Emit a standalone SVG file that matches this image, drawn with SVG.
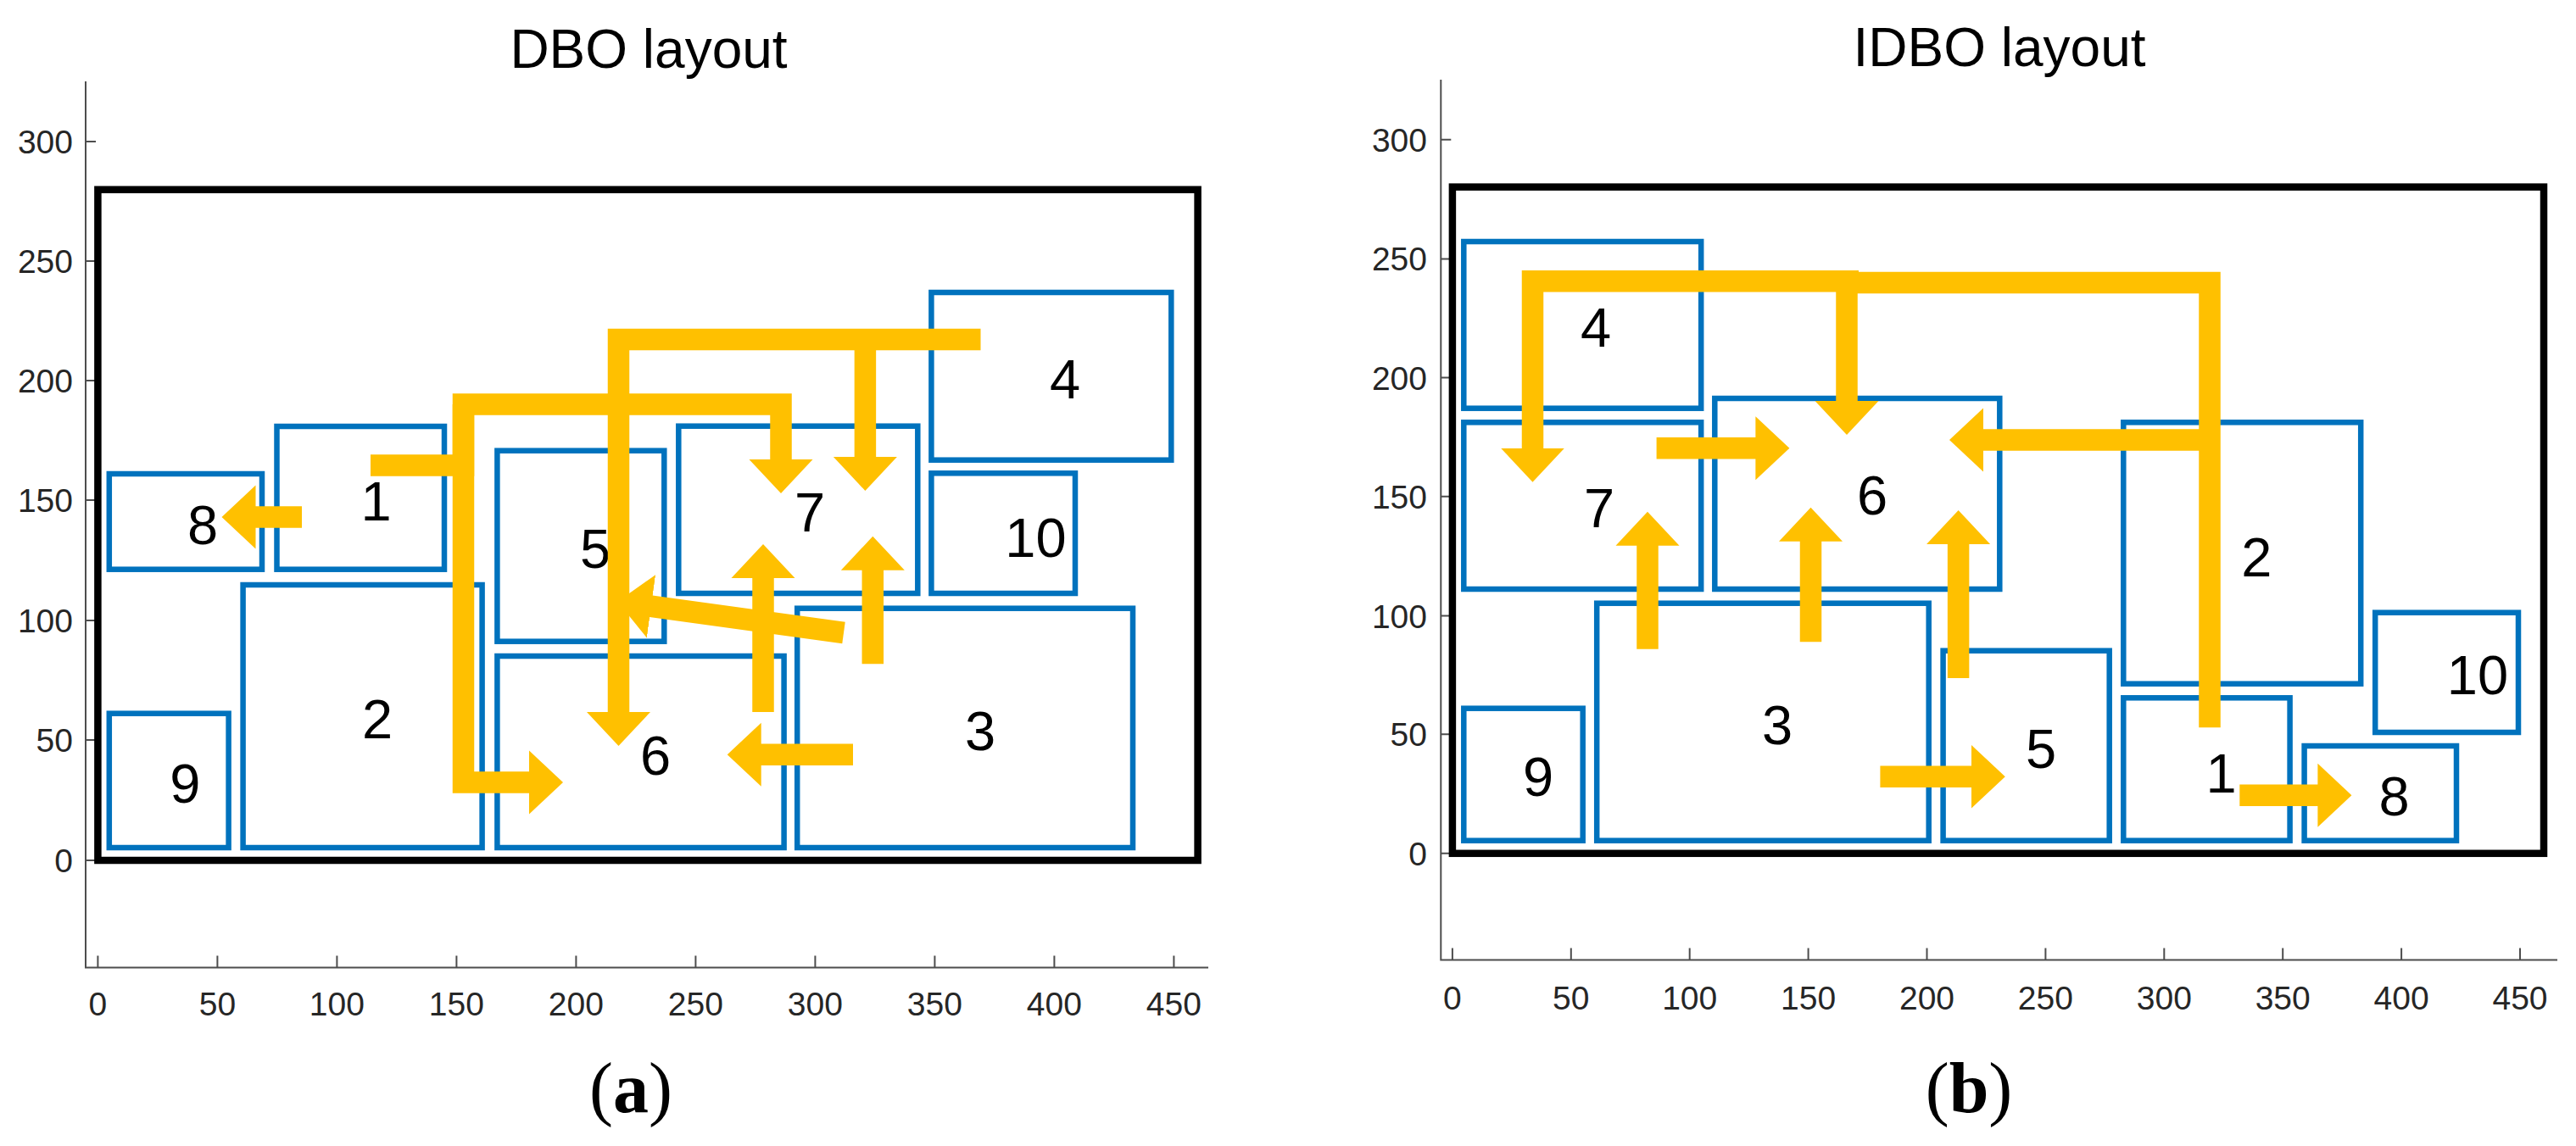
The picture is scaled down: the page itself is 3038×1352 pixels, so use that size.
<svg xmlns="http://www.w3.org/2000/svg" width="3038" height="1352" viewBox="0 0 3038 1352">
<style>
.bg{fill:#ffffff}
.frame{fill:none;stroke:#000000;stroke-width:8.5}
.box{fill:none;stroke:#0072BD;stroke-width:6.5}
.axis{fill:none;stroke:#4d4d4d;stroke-width:2}
.conn{fill:none;stroke:#FFC000;stroke-width:25.5;stroke-linejoin:miter;stroke-linecap:butt}
.lbl{font-family:"Liberation Sans",Arial,sans-serif;font-size:65px;fill:#000000;text-anchor:middle}
.tick{font-family:"Liberation Sans",Arial,sans-serif;font-size:39px;fill:#262626}
.ty{text-anchor:end}
.tx{text-anchor:middle}
.title{font-family:"Liberation Sans",Arial,sans-serif;font-size:64px;fill:#000000;text-anchor:middle}
.cap{font-family:"Liberation Serif","Times New Roman",serif;font-size:84px;fill:#000000;text-anchor:middle}
</style>
<defs>
<marker id="ah" markerUnits="userSpaceOnUse" viewBox="-2 -38 41 76" markerWidth="41" markerHeight="76" refX="0" refY="0" orient="auto">
<path d="M-2,-37.5 L38,0 L-2,37.5 Z" fill="#FFC000"/>
</marker>
</defs>
<rect class="bg" x="0" y="0" width="3038" height="1352"/>

<!-- ===== Panel (a) ===== -->
<g id="panel-a">
<text class="title" x="765" y="80">DBO layout</text>
<g id="axes-a">
<path class="axis" d="M101,96 V1141.6 H1425"/>
<path class="axis" d="M101,167 h12 M101,308 h12 M101,449 h12 M101,590 h12 M101,732 h12 M101,873 h12 M101,1015 h12"/>
<path class="axis" d="M115.4,1141.6 v-14 M256.4,1141.6 v-14 M397.4,1141.6 v-14 M538.4,1141.6 v-14 M679.4,1141.6 v-14 M820.4,1141.6 v-14 M961.4,1141.6 v-14 M1102.4,1141.6 v-14 M1243.4,1141.6 v-14 M1384.4,1141.6 v-14"/>
<text class="tick ty" x="86" y="181">300</text>
<text class="tick ty" x="86" y="322">250</text>
<text class="tick ty" x="86" y="463">200</text>
<text class="tick ty" x="86" y="604">150</text>
<text class="tick ty" x="86" y="746">100</text>
<text class="tick ty" x="86" y="887">50</text>
<text class="tick ty" x="86" y="1029">0</text>
<text class="tick tx" x="115.4" y="1198">0</text>
<text class="tick tx" x="256.4" y="1198">50</text>
<text class="tick tx" x="397.4" y="1198">100</text>
<text class="tick tx" x="538.4" y="1198">150</text>
<text class="tick tx" x="679.4" y="1198">200</text>
<text class="tick tx" x="820.4" y="1198">250</text>
<text class="tick tx" x="961.4" y="1198">300</text>
<text class="tick tx" x="1102.4" y="1198">350</text>
<text class="tick tx" x="1243.4" y="1198">400</text>
<text class="tick tx" x="1384.4" y="1198">450</text>
</g>
<rect id="a-site" class="frame" x="115.4" y="223.7" width="1297.2" height="791.3"/>
<g id="a-node-1"><rect class="box" x="326.5" y="503" width="197.5" height="168.7"/><text class="lbl" x="443.5" y="613.5">1</text></g>
<g id="a-node-2"><rect class="box" x="286.6" y="690" width="282" height="310"/><text class="lbl" x="445" y="871">2</text></g>
<g id="a-node-3"><rect class="box" x="940.2" y="717.7" width="395.8" height="282.3"/><text class="lbl" x="1156" y="884.7">3</text></g>
<g id="a-node-4"><rect class="box" x="1098.4" y="345" width="282.9" height="197.7"/><text class="lbl" x="1256" y="469.7">4</text></g>
<g id="a-node-5"><rect class="box" x="586.4" y="531.7" width="196.9" height="225"/><text class="lbl" x="702" y="669.7">5</text></g>
<g id="a-node-6"><rect class="box" x="586.4" y="774" width="338.2" height="226"/><text class="lbl" x="773" y="913.5">6</text></g>
<g id="a-node-7"><rect class="box" x="800.3" y="502.7" width="282" height="197.3"/><text class="lbl" x="955" y="627">7</text></g>
<g id="a-node-8"><rect class="box" x="128.8" y="559" width="180.2" height="112.7"/><text class="lbl" x="239" y="641.5">8</text></g>
<g id="a-node-9"><rect class="box" x="128.8" y="841.7" width="140.8" height="158.3"/><text class="lbl" x="218.4" y="947">9</text></g>
<g id="a-node-10"><rect class="box" x="1098.4" y="558.3" width="169.6" height="141.7"/><text class="lbl" x="1221.5" y="657">10</text></g>
<g id="a-connectors">
<path class="conn" d="M356,610 H299.5" marker-end="url(#ah)"/>
<path class="conn" d="M437,549 H546.5 V477 H921 V544" marker-end="url(#ah)"/>
<path class="conn" d="M546.5,477 V923 H626" marker-end="url(#ah)"/>
<path class="conn" d="M1156.5,400.5 H729.5 V842" marker-end="url(#ah)"/>
<path class="conn" d="M1020.4,400.5 V541" marker-end="url(#ah)"/>
<path class="conn" d="M995,746.5 L766,715" marker-end="url(#ah)"/>
<path class="conn" d="M900,840 V680" marker-end="url(#ah)"/>
<path class="conn" d="M1029.3,783.3 V670.7" marker-end="url(#ah)"/>
<path class="conn" d="M1006,890.3 H895.7" marker-end="url(#ah)"/>
</g>
<text class="cap" x="744" y="1312">(<tspan font-weight="bold">a</tspan>)</text>
</g>

<!-- ===== Panel (b) ===== -->
<g id="panel-b">
<text class="title" x="2358" y="78">IDBO layout</text>
<g id="axes-b">
<path class="axis" d="M1699.3,94 V1132.6 H3016"/>
<path class="axis" d="M1699.3,164.7 h12 M1699.3,305.4 h12 M1699.3,445.5 h12 M1699.3,585.7 h12 M1699.3,726.6 h12 M1699.3,866.2 h12 M1699.3,1006.8 h12"/>
<path class="axis" d="M1712.9,1132.6 v-14 M1852.8,1132.6 v-14 M1992.7,1132.6 v-14 M2132.6,1132.6 v-14 M2272.5,1132.6 v-14 M2412.4,1132.6 v-14 M2552.3,1132.6 v-14 M2692.2,1132.6 v-14 M2832.1,1132.6 v-14 M2972,1132.6 v-14"/>
<text class="tick ty" x="1683" y="178.7">300</text>
<text class="tick ty" x="1683" y="319.4">250</text>
<text class="tick ty" x="1683" y="459.5">200</text>
<text class="tick ty" x="1683" y="599.7">150</text>
<text class="tick ty" x="1683" y="740.6">100</text>
<text class="tick ty" x="1683" y="880.2">50</text>
<text class="tick ty" x="1683" y="1020.8">0</text>
<text class="tick tx" x="1712.9" y="1191">0</text>
<text class="tick tx" x="1852.8" y="1191">50</text>
<text class="tick tx" x="1992.7" y="1191">100</text>
<text class="tick tx" x="2132.6" y="1191">150</text>
<text class="tick tx" x="2272.5" y="1191">200</text>
<text class="tick tx" x="2412.4" y="1191">250</text>
<text class="tick tx" x="2552.3" y="1191">300</text>
<text class="tick tx" x="2692.2" y="1191">350</text>
<text class="tick tx" x="2832.1" y="1191">400</text>
<text class="tick tx" x="2972" y="1191">450</text>
</g>
<rect id="b-site" class="frame" x="1712.9" y="220.6" width="1287.1" height="786.2"/>
<g id="b-node-1"><rect class="box" x="2504.3" y="823.3" width="196.3" height="168.4"/><text class="lbl" x="2619.5" y="935">1</text></g>
<g id="b-node-2"><rect class="box" x="2504.3" y="498.3" width="279.9" height="308.4"/><text class="lbl" x="2661.4" y="679.7">2</text></g>
<g id="b-node-3"><rect class="box" x="1883.2" y="711.7" width="391.5" height="280"/><text class="lbl" x="2096" y="878">3</text></g>
<g id="b-node-4"><rect class="box" x="1726.3" y="285" width="279.9" height="196.7"/><text class="lbl" x="1882" y="409.3">4</text></g>
<g id="b-node-5"><rect class="box" x="2291.6" y="767.7" width="196.1" height="224"/><text class="lbl" x="2407" y="906.3">5</text></g>
<g id="b-node-6"><rect class="box" x="2022.3" y="470" width="336" height="225"/><text class="lbl" x="2208" y="607">6</text></g>
<g id="b-node-7"><rect class="box" x="1726.3" y="498.3" width="279.9" height="196.7"/><text class="lbl" x="1886" y="622.3">7</text></g>
<g id="b-node-8"><rect class="box" x="2717.6" y="880" width="179.4" height="111.7"/><text class="lbl" x="2823.6" y="962.3">8</text></g>
<g id="b-node-9"><rect class="box" x="1726.3" y="835.7" width="140.4" height="156"/><text class="lbl" x="1814" y="939.3">9</text></g>
<g id="b-node-10"><rect class="box" x="2801.2" y="722.7" width="168.8" height="141.3"/><text class="lbl" x="2922" y="819">10</text></g>
<g id="b-connectors">
<path class="conn" d="M2606,858.3 V333.5 H2178 V475" marker-end="url(#ah)"/>
<path class="conn" d="M2606,519 H2337" marker-end="url(#ah)"/>
<path class="conn" d="M2192,331.7 H1807.5 V530.7" marker-end="url(#ah)"/>
<path class="conn" d="M1953.6,528.8 H2072.4" marker-end="url(#ah)"/>
<path class="conn" d="M1943,765.7 V641.7" marker-end="url(#ah)"/>
<path class="conn" d="M2135.5,757.3 V636.7" marker-end="url(#ah)"/>
<path class="conn" d="M2309.6,800 V640" marker-end="url(#ah)"/>
<path class="conn" d="M2217.4,916.2 H2326.8" marker-end="url(#ah)"/>
<path class="conn" d="M2641.3,938.3 H2735.4" marker-end="url(#ah)"/>
</g>
<text class="cap" x="2322" y="1312">(<tspan font-weight="bold">b</tspan>)</text>
</g>
</svg>
